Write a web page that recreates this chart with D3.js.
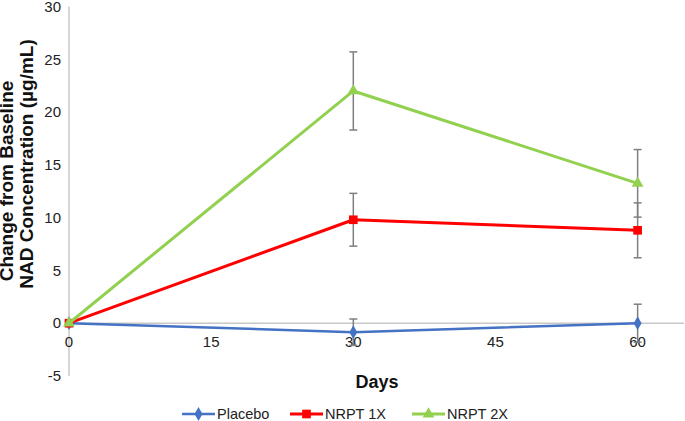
<!DOCTYPE html>
<html>
<head>
<meta charset="utf-8">
<script src="https://cdn.jsdelivr.net/npm/d3@7"></script>
<style>
  body { margin: 0; background: #fff; }
  svg { display: block; font-family: "Liberation Sans", Arial, sans-serif; }
</style>
</head>
<body>
<div id="chart"></div>
<script>
// values
var days = [0, 30, 60];
var placebo = [0, -0.85, 0.0];
var placeboErr = [0, 1.25, 1.8];
var nrpt1x = [0, 9.8, 8.8];
var nrpt1xErr = [0, 2.5, 2.6];
var nrpt2x = [0, 22.0, 13.25];
var nrpt2xErr = [0, 3.7, 3.2];
var xTicks = [0, 15, 30, 45, 60];
var yTicks = [-5, 0, 5, 10, 15, 20, 25, 30];

var series = [
    { name: "Placebo", values: placebo, err: placeboErr, color: "#4472c4", shape: d3.symbolDiamond, size: 55, width: 2.5 },
    { name: "NRPT 1X", values: nrpt1x, err: nrpt1xErr, color: "#ff0000", shape: d3.symbolSquare, size: 75, width: 3 },
    { name: "NRPT 2X", values: nrpt2x, err: nrpt2xErr, color: "#92d050", shape: d3.symbolTriangle, size: 60, width: 3 }
];

var svg = d3.select("#chart").append("svg")
    .attr("width", 685)
    .attr("height", 421);

var x = d3.scaleLinear().domain([0, 65]).range([69, 685]);
var y = d3.scaleLinear().domain([-5, 30]).range([376, 6.5]);

// axes lines
svg.append("line")
    .attr("x1", x(0)).attr("x2", x(0))
    .attr("y1", y(30)).attr("y2", y(-5))
    .attr("stroke", "#c8c8c8").attr("stroke-width", 1.5);
svg.append("line")
    .attr("x1", x(0)).attr("x2", 684)
    .attr("y1", y(0)).attr("y2", y(0))
    .attr("stroke", "#c8c8c8").attr("stroke-width", 1.5);

// tick labels
svg.append("g")
    .selectAll("text")
    .data(yTicks)
    .enter().append("text")
    .attr("x", 61)
    .attr("y", function (d) { return y(d); })
    .attr("dy", "0.35em")
    .attr("text-anchor", "end")
    .attr("font-size", 15)
    .attr("fill", "#222")
    .text(function (d) { return d; });

svg.append("g")
    .selectAll("text")
    .data(xTicks)
    .enter().append("text")
    .attr("x", function (d) { return x(d); })
    .attr("y", y(0) + 18.5)
    .attr("dy", "0.35em")
    .attr("text-anchor", "middle")
    .attr("font-size", 15)
    .attr("fill", "#222")
    .text(function (d) { return d; });

// axis titles
var yTitle = svg.append("text")
    .attr("transform", "rotate(-90)")
    .attr("font-size", 19)
    .attr("font-weight", "bold")
    .attr("text-anchor", "middle")
    .attr("fill", "#111");
yTitle.append("tspan").attr("x", -181).attr("y", 13).text("Change from Baseline");
yTitle.append("tspan").attr("x", -164).attr("y", 33).text("NAD Concentration (µg/mL)");

svg.append("text")
    .attr("x", 377)
    .attr("y", 388)
    .attr("text-anchor", "middle")
    .attr("font-size", 18)
    .attr("font-weight", "bold")
    .attr("fill", "#111")
    .text("Days");

// series
var line = d3.line()
    .x(function (d) { return x(d.day); })
    .y(function (d) { return y(d.value); });

series.forEach(function (s) {
    var pts = days.map(function (d, i) { return { day: d, value: s.values[i], err: s.err[i] }; });
    var g = svg.append("g");

    g.append("path")
        .datum(pts)
        .attr("d", line)
        .attr("fill", "none")
        .attr("stroke", s.color)
        .attr("stroke-width", s.width)
        .attr("stroke-linejoin", "round");

    var eb = g.selectAll("g.err")
        .data(pts.filter(function (p) { return p.err > 0; }))
        .enter().append("g")
        .attr("class", "err")
        .attr("stroke", "#7f7f7f")
        .attr("stroke-width", 1.5);
    eb.append("line")
        .attr("x1", function (p) { return x(p.day); })
        .attr("x2", function (p) { return x(p.day); })
        .attr("y1", function (p) { return y(p.value + p.err); })
        .attr("y2", function (p) { return y(p.value - p.err); });
    eb.append("line")
        .attr("x1", function (p) { return x(p.day) - 4; })
        .attr("x2", function (p) { return x(p.day) + 4; })
        .attr("y1", function (p) { return y(p.value + p.err); })
        .attr("y2", function (p) { return y(p.value + p.err); });
    eb.append("line")
        .attr("x1", function (p) { return x(p.day) - 4; })
        .attr("x2", function (p) { return x(p.day) + 4; })
        .attr("y1", function (p) { return y(p.value - p.err); })
        .attr("y2", function (p) { return y(p.value - p.err); });

    g.selectAll("path.mark")
        .data(pts)
        .enter().append("path")
        .attr("class", "mark")
        .attr("d", d3.symbol().type(s.shape).size(s.size))
        .attr("transform", function (p) { return "translate(" + x(p.day) + "," + y(p.value) + ")"; })
        .attr("fill", s.color);
});

// legend
var legendX = [182, 290, 412];
var legend = svg.append("g")
    .selectAll("g")
    .data(series)
    .enter().append("g")
    .attr("transform", function (d, i) { return "translate(" + legendX[i] + ",414)"; });
legend.append("line")
    .attr("x1", 0).attr("x2", 33)
    .attr("stroke", function (d) { return d.color; })
    .attr("stroke-width", function (d) { return d.width; });
legend.append("path")
    .attr("d", function (d) { return d3.symbol().type(d.shape).size(d.size)(); })
    .attr("transform", "translate(16.5,0)")
    .attr("fill", function (d) { return d.color; });
legend.append("text")
    .attr("x", 35)
    .attr("dy", "0.35em")
    .attr("font-size", 14.5)
    .attr("fill", "#222")
    .text(function (d) { return d.name; });
</script>
</body>
</html>
